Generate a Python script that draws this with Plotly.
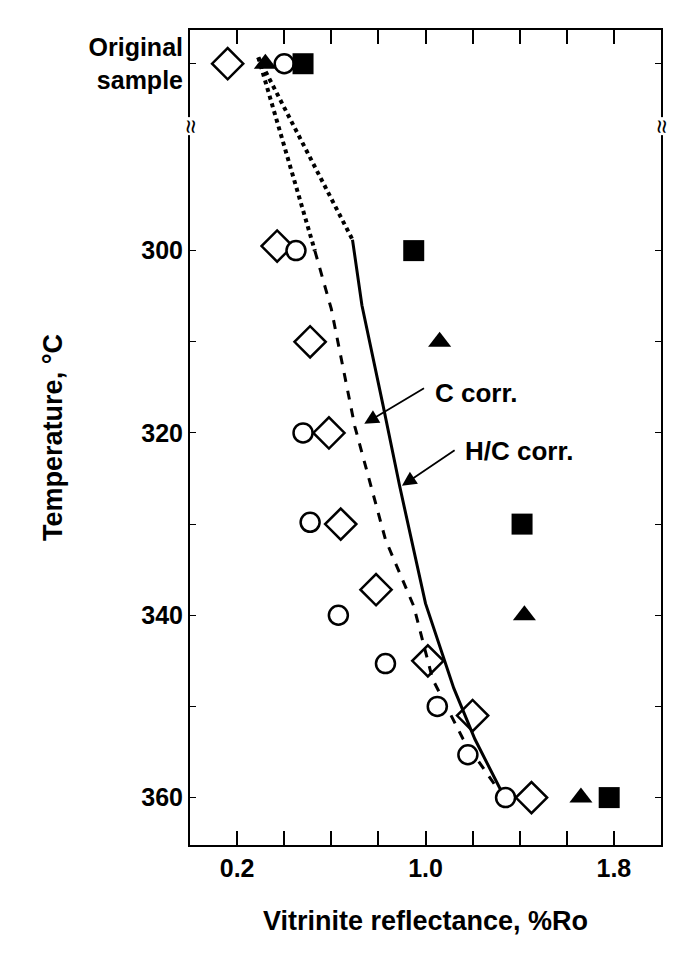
import plotly.graph_objects as go

ORIG = 279.5  # "Original sample" row, placed above the axis break

# open diamonds
dia_x = [0.16, 0.37, 0.51, 0.59, 0.64, 0.79, 1.01, 1.20, 1.45]
dia_y = [ORIG, 299.5, 310, 320, 330, 337.2, 345, 351, 360]
# open circles
cir_x = [0.40, 0.45, 0.48, 0.51, 0.63, 0.83, 1.05, 1.18, 1.34]
cir_y = [ORIG, 300, 320, 329.8, 340, 345.3, 350, 355.3, 360]
# filled squares
sq_x = [0.48, 0.95, 1.41, 1.78]
sq_y = [ORIG, 300, 330, 360]
# filled triangles
tri_x = [0.32, 1.06, 1.42, 1.66]
tri_y = [ORIG, 310, 340, 360]

# correction curves: dotted part up to 300 C, then dashed / solid
c_dot_x = [0.29, 0.53]
c_dot_y = [278.8, 300]
c_x = [0.53, 0.60, 0.70, 0.83, 0.95, 1.03, 1.16, 1.30]
c_y = [300, 306.4, 319.3, 331.7, 339, 347, 353.6, 358.8]
hc_dot_x = [0.29, 0.69]
hc_dot_y = [278.8, 298.8]
hc_x = [0.69, 0.73, 0.82, 0.89, 1.0, 1.12, 1.21, 1.32]
hc_y = [298.8, 306, 317, 325.8, 338.7, 348, 353.6, 359.2]

x_ticks = [0.2, 0.4, 0.6, 0.8, 1.0, 1.2, 1.4, 1.6, 1.8]
x_labels = ["0.2", "", "", "", "1.0", "", "", "", "1.8"]
y_ticks = [ORIG, 300, 310, 320, 330, 340, 350, 360]
y_labels = ["Original<br>sample", "300", "", "320", "", "340", "", "360"]

FAM = "Liberation Sans, Arial"

fig = go.Figure()
fig.add_trace(go.Scatter(x=c_dot_x, y=c_dot_y, mode="lines", line=dict(color="black", width=4, dash="dot")))
fig.add_trace(go.Scatter(x=hc_dot_x, y=hc_dot_y, mode="lines", line=dict(color="black", width=4, dash="dot")))
fig.add_trace(go.Scatter(x=c_x, y=c_y, mode="lines", line=dict(color="black", width=3, dash="dash")))
fig.add_trace(go.Scatter(x=hc_x, y=hc_y, mode="lines", line=dict(color="black", width=3)))

fig.add_trace(go.Scatter(x=dia_x, y=dia_y, mode="markers",
                         marker=dict(symbol="diamond-open", size=24, color="black", line=dict(width=2.5))))
fig.add_trace(go.Scatter(x=cir_x, y=cir_y, mode="markers",
                         marker=dict(symbol="circle", size=19, color="white", line=dict(width=2.5, color="black"))))
fig.add_trace(go.Scatter(x=sq_x, y=sq_y, mode="markers",
                         marker=dict(symbol="square", size=21, color="black")))
fig.add_trace(go.Scatter(x=tri_x, y=tri_y, mode="markers",
                         marker=dict(symbol="triangle-up", size=20, color="black")))

lab_font = dict(family=FAM, size=26, color="black", weight="bold")
fig.add_annotation(x=0.74, y=319, ax=1.0, ay=315, axref="x", ayref="y", arrowcolor="black",
                   text="", showarrow=True, arrowhead=2, arrowsize=1.6, arrowwidth=1.8)
fig.add_annotation(x=1.03, y=315.6, text="C corr.", showarrow=False, xanchor="left", font=lab_font)
fig.add_annotation(x=0.90, y=325.8, ax=1.13, ay=321.8, axref="x", ayref="y", arrowcolor="black",
                   text="", showarrow=True, arrowhead=2, arrowsize=1.6, arrowwidth=1.8)
fig.add_annotation(x=1.16, y=322, text="H/C corr.", showarrow=False, xanchor="left", font=lab_font)
# axis break marks
for xb in [0, 2.0]:
    fig.add_annotation(x=xb, y=286.4, text="≈", showarrow=False, textangle=-90,
                       font=dict(size=26, color="black"), bgcolor="white")

tick_font = dict(family=FAM, size=25, color="black", weight="bold")
title_font = dict(family=FAM, size=27, color="black", weight="bold")
axis = dict(showline=True, linewidth=2, linecolor="black", mirror="ticks",
            ticks="inside", tickcolor="black", showgrid=False, zeroline=False,
            tickfont=tick_font)
fig.update_layout(
    width=684, height=962, plot_bgcolor="white", paper_bgcolor="white",
    showlegend=False, margin=dict(l=182, r=31, t=22, b=125, autoexpand=False),
    xaxis=dict(axis, range=[0, 2.0], tickvals=x_ticks, ticktext=x_labels, ticklen=14, tickwidth=1.5,
               title=dict(text="Vitrinite reflectance, %Ro", standoff=30, font=title_font)),
    yaxis=dict(axis, range=[365.2, 275.8], tickvals=y_ticks, ticktext=y_labels, ticklen=6,
               title=dict(text="Temperature, °C", standoff=18, font=title_font)),
)
fig.write_html("out.html")
